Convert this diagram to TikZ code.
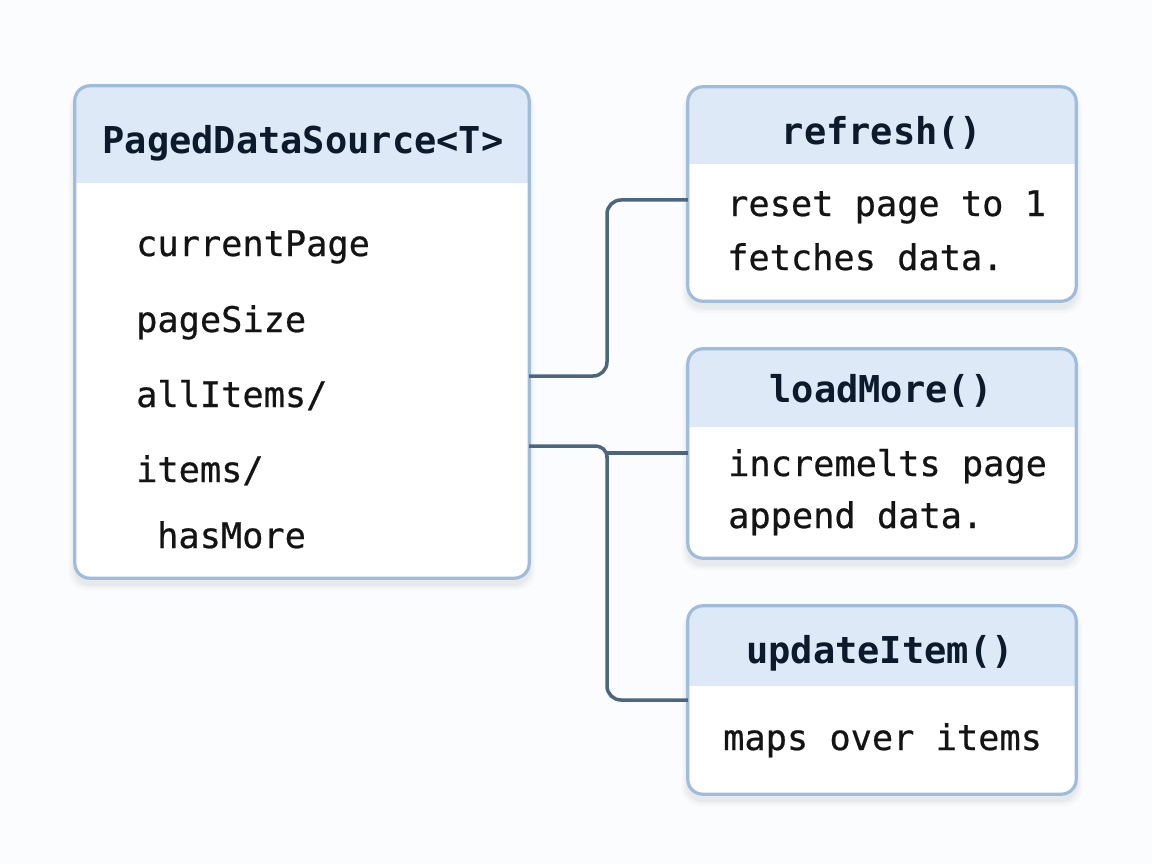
\documentclass[tikz,border=0pt]{standalone}
\usepackage{fontspec}
\setmonofont{DejaVu Sans Mono}
\newfontfamily\bodyfont[FakeBold=0.6]{DejaVu Sans Mono}
\usetikzlibrary{calc}
\definecolor{bordc}{HTML}{9EBDDE}
\definecolor{hdrc}{HTML}{DDE9F6}
\definecolor{txtc}{HTML}{0D1A2C}
\definecolor{bodyc}{HTML}{141414}
\definecolor{linec}{HTML}{4D6680}
\definecolor{bgc}{HTML}{FBFCFD}
\tikzset{
  frame/.style={draw=bordc, line width=3.2pt, rounded corners=15pt},
  hdrtext/.style={font=\ttfamily\bfseries\fontsize{37}{40}\selectfont, text=txtc, inner sep=0, anchor=base},
  bodytext/.style={font=\bodyfont\fontsize{35.3}{40}\selectfont, text=bodyc, inner sep=0, anchor=base west},
  conn/.style={draw=linec, line width=3.5pt, rounded corners=14pt},
}
\begin{document}
\begin{tikzpicture}[x=1pt,y=-1pt]
\useasboundingbox[fill=bgc] (0,0) rectangle (1152,864);
% box anchors
\node[minimum width=454pt, minimum height=492pt, inner sep=0] (main) at (302,332) {};
\node[minimum width=388pt, minimum height=214pt, inner sep=0] (refresh) at (882,194) {};
\node[minimum width=388pt, minimum height=209pt, inner sep=0] (loadmore) at (882,453.5) {};
\node[minimum width=388pt, minimum height=188pt, inner sep=0] (update) at (882,700) {};
% shadows, bodies, headers
\foreach \b/\h in {main/97, refresh/77, loadmore/78, update/80}{
  \foreach \k/\o in {1/0.03, 2/0.025, 3/0.02}{
    \fill[black, opacity=\o, rounded corners=18pt]
      ($(\b.north west)+(-\k*2,2+\k)$) rectangle ($(\b.south east)+(\k*2,6+\k*2)$);
  }
  \fill[white, rounded corners=15pt] (\b.north west) rectangle (\b.south east);
  \begin{scope}
    \clip[rounded corners=15pt] (\b.north west) rectangle (\b.south east);
    \fill[hdrc] (\b.north west) rectangle ($(\b.north east)+(0,\h)$);
  \end{scope}
  \draw[frame] (\b.north west) rectangle (\b.south east);
}
% texts
\node[hdrtext] (mainh) at (303,154) {PagedDataSource<T>};
\node[bodytext] (m1) at (136,256) {currentPage};
\node[bodytext] (m2) at (136,332) {pageSize};
\node[bodytext] (m3) at (136,407) {allItems/};
\node[bodytext] (m4) at (136,482) {items/};
\node[bodytext] (m5) at (157,548) {hasMore};
\node[hdrtext] (rh) at (882,145) {refresh()};
\node[bodytext] (r1) at (727,216) {reset page to 1};
\node[bodytext] (r2) at (727,270) {fetches data.};
\node[hdrtext] (lh) at (881,402) {loadMore()};
\node[bodytext] (l1) at (728,476) {incremelts page};
\node[bodytext] (l2) at (728,528) {append data.};
\node[hdrtext] (uh) at (880,663) {updateItem()};
\node[bodytext] (u1) at (723,750) {maps over items};
% connectors
\coordinate (j2) at (607,453);
\draw[conn] (main.east |- 0,376) -| (607,200) -- (refresh.west |- 0,200);
\draw[draw=linec, line width=3.5pt] (main.east |- 0,446) -- (594,446)
  .. controls (602,446) and (607,450) .. (607,458);
\draw[conn] (607,456) -- (607,700) -- (update.west |- 0,700);
\draw[draw=linec, line width=3.5pt] (j2) -- (loadmore.west |- j2);
\end{tikzpicture}
\end{document}
